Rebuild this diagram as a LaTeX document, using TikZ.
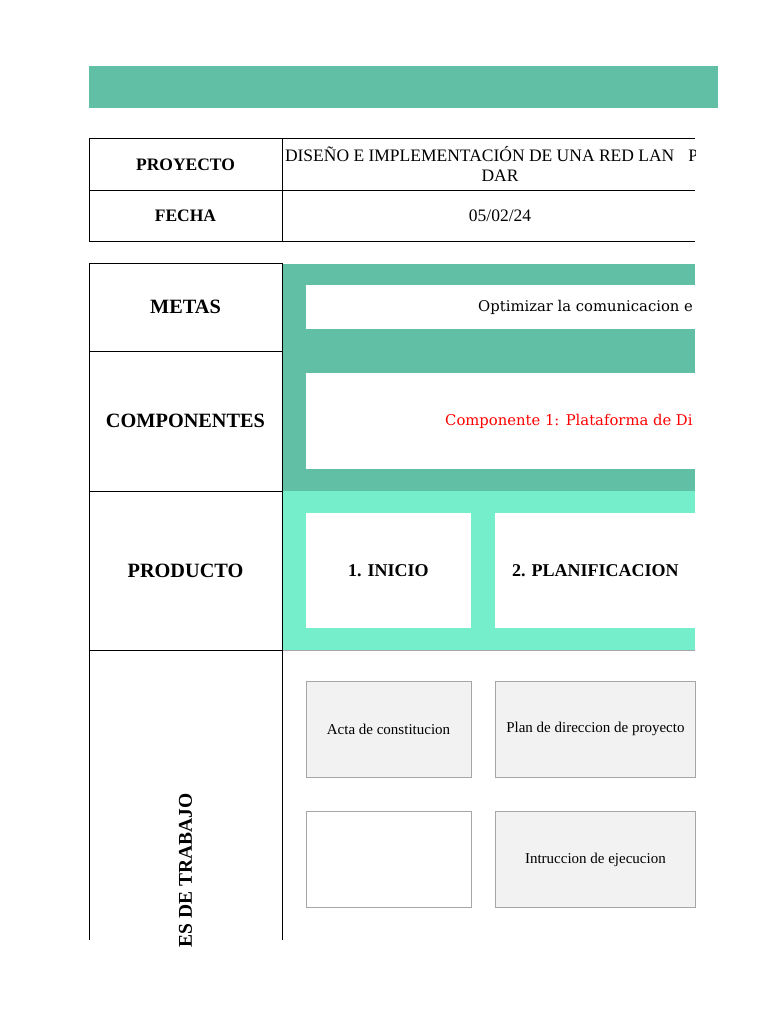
\documentclass[tikz,border=0pt]{standalone}
\usepackage{fontspec}
\setmainfont{Liberation Serif}
\newfontfamily\bodyserif{DejaVu Serif}
\usepackage{tikz}
\usetikzlibrary{positioning}
\definecolor{mint}{RGB}{97,191,165}
\definecolor{aquamint}{RGB}{116,238,203}
\definecolor{cellgray}{RGB}{242,242,242}
\definecolor{edgegray}{RGB}{166,166,166}

\begin{document}
\begin{tikzpicture}[x=1pt,y=-1pt]
  % project planning sheet, cut off at the right edge
  \tikzset{lbl/.style={font=\fontsize{17.5}{19.5}\selectfont},
    hdr/.style={font=\fontsize{20.3}{24}\selectfont\bfseries},
    phase/.style={fill=white,minimum height=115pt,font=\fontsize{18}{22}\selectfont\bfseries},
    task/.style={draw=edgegray,fill=cellgray,minimum width=165pt,minimum height=96pt,font=\fontsize{15}{18}\selectfont},
    grid/.style={line width=1pt,black}}
  \useasboundingbox[fill=white] (0,0) rectangle (768,1024);
  \fill[mint] (89,66) rectangle (718,108);
  % header table
  \draw[grid] (89,139) -- (695,139) (89,191) -- (695,191) (89,241) -- (695,241);
  \draw[grid] (89,139) -- (89,241) (282,139) -- (282,241);
  \node[lbl,font=\fontsize{17.5}{19.5}\selectfont\bfseries] (proy) at (185.5,165) {PROYECTO};
  \node[lbl,font=\fontsize{17.5}{19.5}\selectfont\bfseries] (fecha) at (185.5,216) {FECHA};
  \node[lbl] (fechatxt) at (500,216) {05/02/24};
  % coloured bands
  \fill[mint] (283,264) rectangle (695,491);
  \fill[white] (306,285) rectangle (695,329);
  \fill[white] (306,373) rectangle (695,469);
  \fill[aquamint] (283,491) rectangle (695,650);
  \begin{scope}
    \clip (0,0) rectangle (695,1024);
    \node[lbl,align=center] (proytxt) at (500,164) {\makebox[430pt][l]{DISEÑO E IMPLEMENTACIÓN DE UNA RED LAN\hspace{14pt}P}\\DAR};
    \node[anchor=west,inner sep=0pt,font=\bodyserif\fontsize{14.8}{18}\selectfont] (meta) at (478,307) {Optimizar la comunicacion e};
    \node[anchor=west,inner sep=0pt,text=red,font=\bodyserif\fontsize{14.8}{18}\selectfont] (comp) at (445,421) {Componente 1: Plataforma de Di};
  \end{scope}
  % left column of the matrix
  \draw[grid] (89,940) -- (89,263) -- (282,263) -- (282,940);
  \draw[grid] (89,351) -- (282,351) (89,491) -- (282,491) (89,650) -- (282,650);
  \draw[edgegray] (283,650) -- (695,650);
  \node[hdr] (metas) at (185.5,307) {METAS};
  \node[hdr] (comps) at (185.5,421) {COMPONENTES};
  \node[hdr] (prod) at (185.5,570.5) {PRODUCTO};
  \begin{scope}
    \clip (0,0) rectangle (768,946);
    \node[hdr,rotate=90,anchor=east,inner sep=0pt,font=\fontsize{19.5}{24}\selectfont\bfseries] (trab) at (185.5,793) {ES DE TRABAJO};
  \end{scope}
  % phases and work items
  \node[phase,minimum width=165pt] (inicio) at (388.5,570.5) {1. INICIO};
  \node[phase,minimum width=200pt,right=24pt of inicio] (plan) {2. PLANIFICACION};
  \node[task] (acta) at (388.5,729) {Acta de constitucion};
  \node[task,minimum width=200pt,right=24pt of acta] (pdir) {Plan de direccion de proyecto};
  \node[task,fill=white,below=34pt of acta] (vacio) {};
  \node[task,minimum width=200pt,right=24pt of vacio] (instr) {Intruccion de ejecucion};
\end{tikzpicture}
\end{document}
